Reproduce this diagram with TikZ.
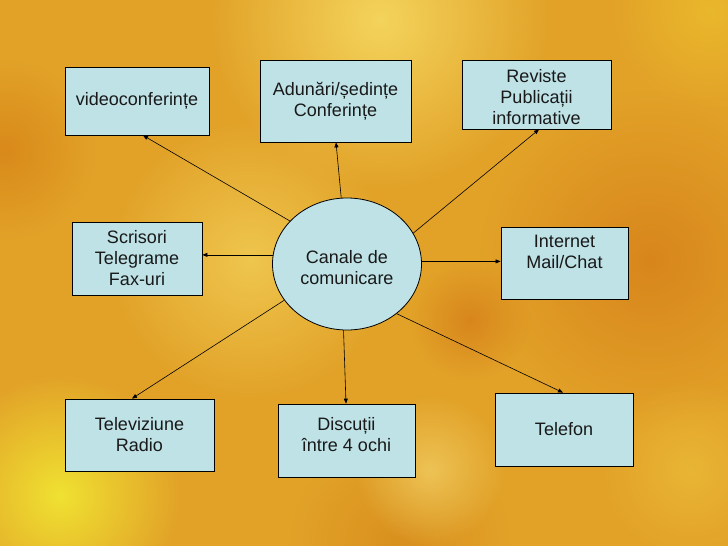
\documentclass[tikz,border=0pt]{standalone}
\usepackage{fontspec}
\setmainfont{Liberation Sans}
\usetikzlibrary{shapes.geometric,arrows.meta,fadings}
\definecolor{boxblue}{RGB}{190,226,230}
\definecolor{bgbase}{HTML}{E2A228}
\definecolor{bA}{HTML}{F4D45C}
\definecolor{bB}{HTML}{EFC64E}
\definecolor{bC}{HTML}{F0E232}
\definecolor{bD}{HTML}{D8861C}
\definecolor{bE}{HTML}{D98A1A}
\definecolor{bF}{HTML}{D9901E}
\definecolor{bG}{HTML}{EDC355}
\definecolor{bH}{HTML}{E9B535}
\definecolor{bI}{HTML}{EAB82C}
\tikzfading[name=fuzzy, inner color=transparent!0, outer color=transparent!100]
\begin{document}
\begin{tikzpicture}[x=1pt,y=-1pt,
  box/.style={draw=black, line width=0.8pt, fill=boxblue, rectangle, align=center, inner sep=0pt, text=black!90, font=\fontsize{18}{21}\selectfont},
  conn/.style={line width=0.6pt, -{Triangle[length=5pt,width=4pt]}},
  blob/.style={path fading=fuzzy}]
\path[use as bounding box] (0,0) rectangle (728,546);
\fill[bgbase] (0,0) rectangle (728,546);
% background blobs
\fill[bA, blob] (380,20) circle (170);
\fill[bB, blob] (250,260) circle (140);
\fill[bC, blob] (60,495) circle (120);
\fill[bD, blob] (650,260) circle (170);
\fill[bE, blob] (5,150) circle (90);
\fill[bF, blob] (400,545) circle (110);
\fill[bG, blob] (430,470) circle (75);
\fill[bH, blob] (690,470) circle (90);
\fill[bI, blob] (710,10) circle (100);
\fill[bD, blob] (470,320) circle (60);
% nodes
\node[box, minimum width=144, minimum height=68] (v) at (137,101) {videoconferințe};
\node[box, minimum width=151, minimum height=82] (a) at (335.5,101) {Adunări/ședințe\\Conferințe};
\node[box, minimum width=149, minimum height=69] (r) at (536.5,94.5) {\rule{0pt}{19pt}Reviste\\Publicații\\informative};
\node[box, minimum width=130, minimum height=73] (s) at (137,258.5) {Scrisori\\Telegrame\\Fax-uri};
\node[box, minimum width=127, minimum height=72] (i) at (564.5,263) {Internet\\Mail/Chat\rule[-22pt]{0pt}{0pt}};
\node[box, minimum width=149, minimum height=72] (t) at (139.5,435) {Televiziune\\Radio};
\node[box, minimum width=137, minimum height=73] (d) at (346.5,440.5) {Discuții\\între 4 ochi\rule[-12pt]{0pt}{0pt}};
\node[box, minimum width=138, minimum height=73] (f) at (564,429.5) {Telefon};
\node[box, ellipse, minimum width=149, minimum height=132] (c) at (347,264) {\rule{0pt}{20pt}Canale de\\comunicare};
% connectors
\draw[conn] (c.143.4) -- (143,0 |- v.south);
\draw[conn] (c.95.2) -- (336,0 |- a.south);
\draw[conn] (c.25.9) -- (539,0 |- r.south);
\draw[conn] (c.173.9) -- (c.173.9 -| s.east);
\draw[conn] (c.2.3) -- (c.2.3 -| i.west);
\draw[conn] (c.210.7) -- (132,0 |- t.north);
\draw[conn] (c.267) -- (346,0 |- d.north);
\draw[conn] (c.315.6) -- (563,0 |- f.north);
\end{tikzpicture}
\end{document}
